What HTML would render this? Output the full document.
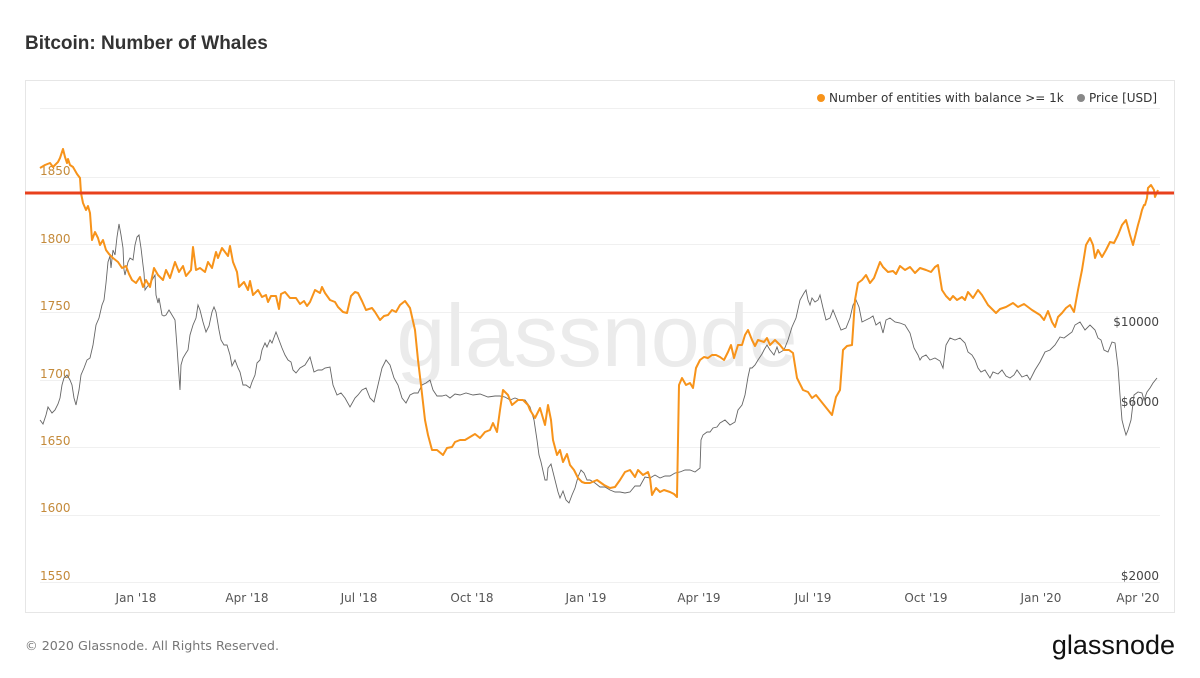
<!DOCTYPE html>
<html><head><meta charset="utf-8"><style>
body{margin:0;background:#fff;width:1200px;height:673px;overflow:hidden;font-family:"Liberation Sans","DejaVu Sans",sans-serif;}
</style></head><body>
<svg width="1200" height="673" viewBox="0 0 1200 673" xmlns="http://www.w3.org/2000/svg" font-family="DejaVu Sans, Liberation Sans, sans-serif">
<rect width="1200" height="673" fill="#fff"/>
<text x="25" y="49" font-family="Liberation Sans, sans-serif" font-weight="bold" font-size="19" fill="#333">Bitcoin: Number of Whales</text>
<rect x="25.5" y="80.5" width="1149" height="532" fill="#fff" stroke="#e6e6e6"/>
<g stroke="#f0f0f0" stroke-width="1">
<line x1="40" x2="1160" y1="108.5" y2="108.5"/><line x1="40" x2="1160" y1="177.5" y2="177.5"/>
<line x1="40" x2="1160" y1="244.5" y2="244.5"/><line x1="40" x2="1160" y1="312.5" y2="312.5"/>
<line x1="40" x2="1160" y1="380.5" y2="380.5"/><line x1="40" x2="1160" y1="447.5" y2="447.5"/>
<line x1="40" x2="1160" y1="515.5" y2="515.5"/><line x1="40" x2="1160" y1="582.5" y2="582.5"/>
</g>
<text x="597" y="366" text-anchor="middle" font-family="Liberation Sans, sans-serif" font-size="88" fill="#ebebeb">glassnode</text>
<g font-size="12" fill="#c48a3a">
<text x="40" y="175">1850</text><text x="40" y="243">1800</text><text x="40" y="310">1750</text>
<text x="40" y="378">1700</text><text x="40" y="445">1650</text><text x="40" y="512">1600</text><text x="40" y="580">1550</text>
</g>
<g font-size="12" fill="#444" text-anchor="end">
<text x="1159" y="326">$10000</text><text x="1159" y="406">$6000</text><text x="1159" y="580">$2000</text>
</g>
<g font-size="12" fill="#555" text-anchor="middle">
<text x="136" y="602">Jan '18</text><text x="247" y="602">Apr '18</text><text x="359" y="602">Jul '18</text>
<text x="472" y="602">Oct '18</text><text x="586" y="602">Jan '19</text><text x="699" y="602">Apr '19</text>
<text x="813" y="602">Jul '19</text><text x="926" y="602">Oct '19</text><text x="1041" y="602">Jan '20</text><text x="1138" y="602">Apr '20</text>
</g>
<g font-size="12" fill="#333">
<circle cx="821" cy="98" r="4" fill="#f7931a"/><text x="829" y="102">Number of entities with balance &gt;= 1k</text>
<circle cx="1081" cy="98" r="4" fill="#888"/><text x="1089" y="102">Price [USD]</text>
</g>
<polyline fill="none" stroke="#666" stroke-width="0.9" points="40,420 43,424 46,415 48,407 52,413 55,410 58,404 60,398 62,385 64,378 67,375 70,380 72,385 74,398 76,405 79,390 81,375 84,368 87,360 90,358 93,345 96,325 99,318 102,305 104,300 106,283 108,262 110,256 111,268 113,250 115,255 117,237 119,224 121,235 123,248 124,270 125,275 128,262 130,258 133,260 135,245 137,237 139,235 141,248 143,265 144,273 145,290 147,287 151,282 155,275 156,295 158,303 159,298 162,315 164,316 166,315 169,310 175,320 177,347 178,362 180,390 181,365 183,358 186,353 188,350 190,335 193,325 196,318 198,305 200,310 203,322 206,332 209,326 212,312 214,307 216,312 219,330 221,340 224,345 227,345 230,355 232,366 235,360 238,368 240,372 243,385 246,385 250,388 252,382 255,375 257,363 260,360 262,350 265,343 267,347 270,340 272,343 276,332 279,340 282,348 285,355 288,360 291,362 293,370 296,373 300,368 305,365 310,357 314,372 318,370 322,370 325,368 330,367 333,385 337,395 341,393 345,398 350,407 355,398 358,395 362,390 366,388 370,398 374,402 378,385 382,368 386,360 390,365 394,378 398,385 402,398 406,403 410,395 414,393 418,393 422,385 426,383 430,380 433,390 437,396 442,396 446,395 450,398 455,394 460,395 466,393 473,395 480,394 488,397 495,396 500,396 505,397 510,400 515,398 520,400 525,400 530,407 534,420 537,440 539,455 541,462 545,480 547,480 548,468 551,464 553,472 555,480 558,492 560,498 563,491 566,500 569,503 572,495 575,488 578,477 581,470 584,473 587,480 590,480 595,483 600,487 605,487 610,490 615,492 620,492 625,493 630,492 635,486 640,486 645,477 650,478 655,475 660,478 665,476 670,476 675,473 680,472 685,470 690,470 695,472 700,468 701,440 703,435 707,432 710,432 713,428 717,427 720,423 725,420 730,425 735,422 738,410 742,405 745,395 748,377 750,368 752,368 755,365 758,360 762,354 764,350 767,345 770,350 774,355 777,347 779,353 784,350 788,340 792,327 796,318 800,300 804,293 806,290 808,300 810,305 812,298 815,302 818,300 820,295 823,308 826,320 830,318 833,310 837,320 841,330 846,328 850,318 853,305 856,300 859,307 862,322 866,320 870,318 873,316 876,325 880,322 883,333 886,320 890,318 895,322 900,323 905,325 910,333 914,348 918,355 920,360 922,357 926,355 930,360 935,358 940,361 943,368 946,345 950,338 955,340 960,338 965,343 968,352 972,355 975,360 978,368 981,372 985,370 990,378 993,372 998,374 1002,370 1006,376 1010,378 1014,375 1017,370 1022,377 1027,375 1030,380 1035,370 1040,362 1045,352 1050,350 1055,345 1060,337 1064,338 1068,335 1072,332 1075,325 1080,322 1085,330 1090,325 1095,330 1098,338 1101,340 1104,350 1108,352 1112,342 1115,343 1118,367 1120,395 1122,420 1124,428 1126,435 1128,430 1131,420 1134,395 1138,392 1142,393 1144,400 1147,392 1150,388 1153,383 1157,378"/>
<polyline fill="none" stroke="#f7931a" stroke-width="2" stroke-linejoin="round" points="40,168 45,165 50,163 53,167 58,162 60,158 63,149 65,157 67,163 68,159 70,165 73,167 77,174 80,178 81,193 83,203 86,210 88,206 90,213 92,240 95,232 98,238 100,245 103,240 106,250 109,254 113,258 118,262 122,268 126,266 129,274 132,280 136,283 140,277 143,287 146,280 150,287 154,268 158,275 163,280 166,270 170,278 175,262 179,272 183,266 186,276 191,270 193,247 196,270 200,268 205,272 208,262 212,268 216,252 218,258 222,248 228,256 230,246 233,262 237,272 239,287 244,282 248,290 250,281 253,295 258,290 262,297 266,295 268,302 271,296 276,296 279,309 281,294 285,292 290,298 296,298 300,304 304,301 307,306 310,302 315,290 320,293 322,287 325,293 330,300 335,302 338,307 343,312 347,313 351,296 355,292 358,293 362,301 366,310 372,308 375,312 380,320 384,316 388,315 392,310 396,312 400,305 405,301 410,308 415,330 418,360 421,385 425,420 428,435 432,450 437,450 443,455 447,448 452,447 455,442 460,440 465,440 470,437 475,434 480,438 485,432 490,430 493,423 497,432 500,410 503,390 508,395 512,405 518,400 523,400 528,405 530,410 535,418 540,408 545,425 548,405 551,420 553,440 557,455 560,450 563,462 567,454 570,465 574,470 578,478 582,482 585,483 590,483 597,480 604,485 610,488 615,487 620,480 625,472 630,470 635,477 638,470 643,475 648,472 650,478 652,495 656,488 660,492 664,490 670,492 674,494 677,497 679,385 682,378 686,385 690,383 693,388 696,368 700,360 704,357 708,358 712,355 716,355 720,357 724,360 728,352 731,345 734,358 738,345 742,345 745,335 748,330 752,340 755,346 758,340 764,342 767,338 770,345 775,340 780,345 784,350 789,350 793,353 797,378 803,390 808,392 812,398 816,395 820,400 824,405 828,410 832,415 836,397 840,390 843,350 847,346 852,345 855,300 858,283 862,280 866,275 870,283 874,278 877,270 880,262 883,267 888,272 893,271 896,274 900,266 905,270 910,267 915,273 920,268 926,270 931,272 935,267 938,265 942,290 946,296 950,300 953,296 957,300 962,297 965,300 968,292 973,298 978,290 982,295 988,305 996,313 1000,309 1006,307 1013,303 1018,307 1024,304 1028,307 1032,310 1040,315 1044,320 1048,311 1052,322 1055,327 1058,317 1062,313 1066,308 1070,305 1074,312 1078,290 1082,270 1086,245 1090,238 1093,245 1095,258 1098,250 1102,257 1106,250 1110,242 1114,243 1118,235 1122,225 1126,220 1130,235 1133,245 1138,225 1140,218 1142,210 1144,205 1145,205 1147,198 1148,188 1151,185 1154,190 1155,197 1158,190"/>
<line x1="25" x2="1174" y1="193" y2="193" stroke="#e8401c" stroke-width="3"/>
<text x="25" y="650" font-size="12.7" fill="#777">© 2020 Glassnode. All Rights Reserved.</text>
<text x="1175" y="654" text-anchor="end" font-family="Liberation Sans, sans-serif" font-size="27" fill="#111">glassnode</text>
</svg>
</body></html>
